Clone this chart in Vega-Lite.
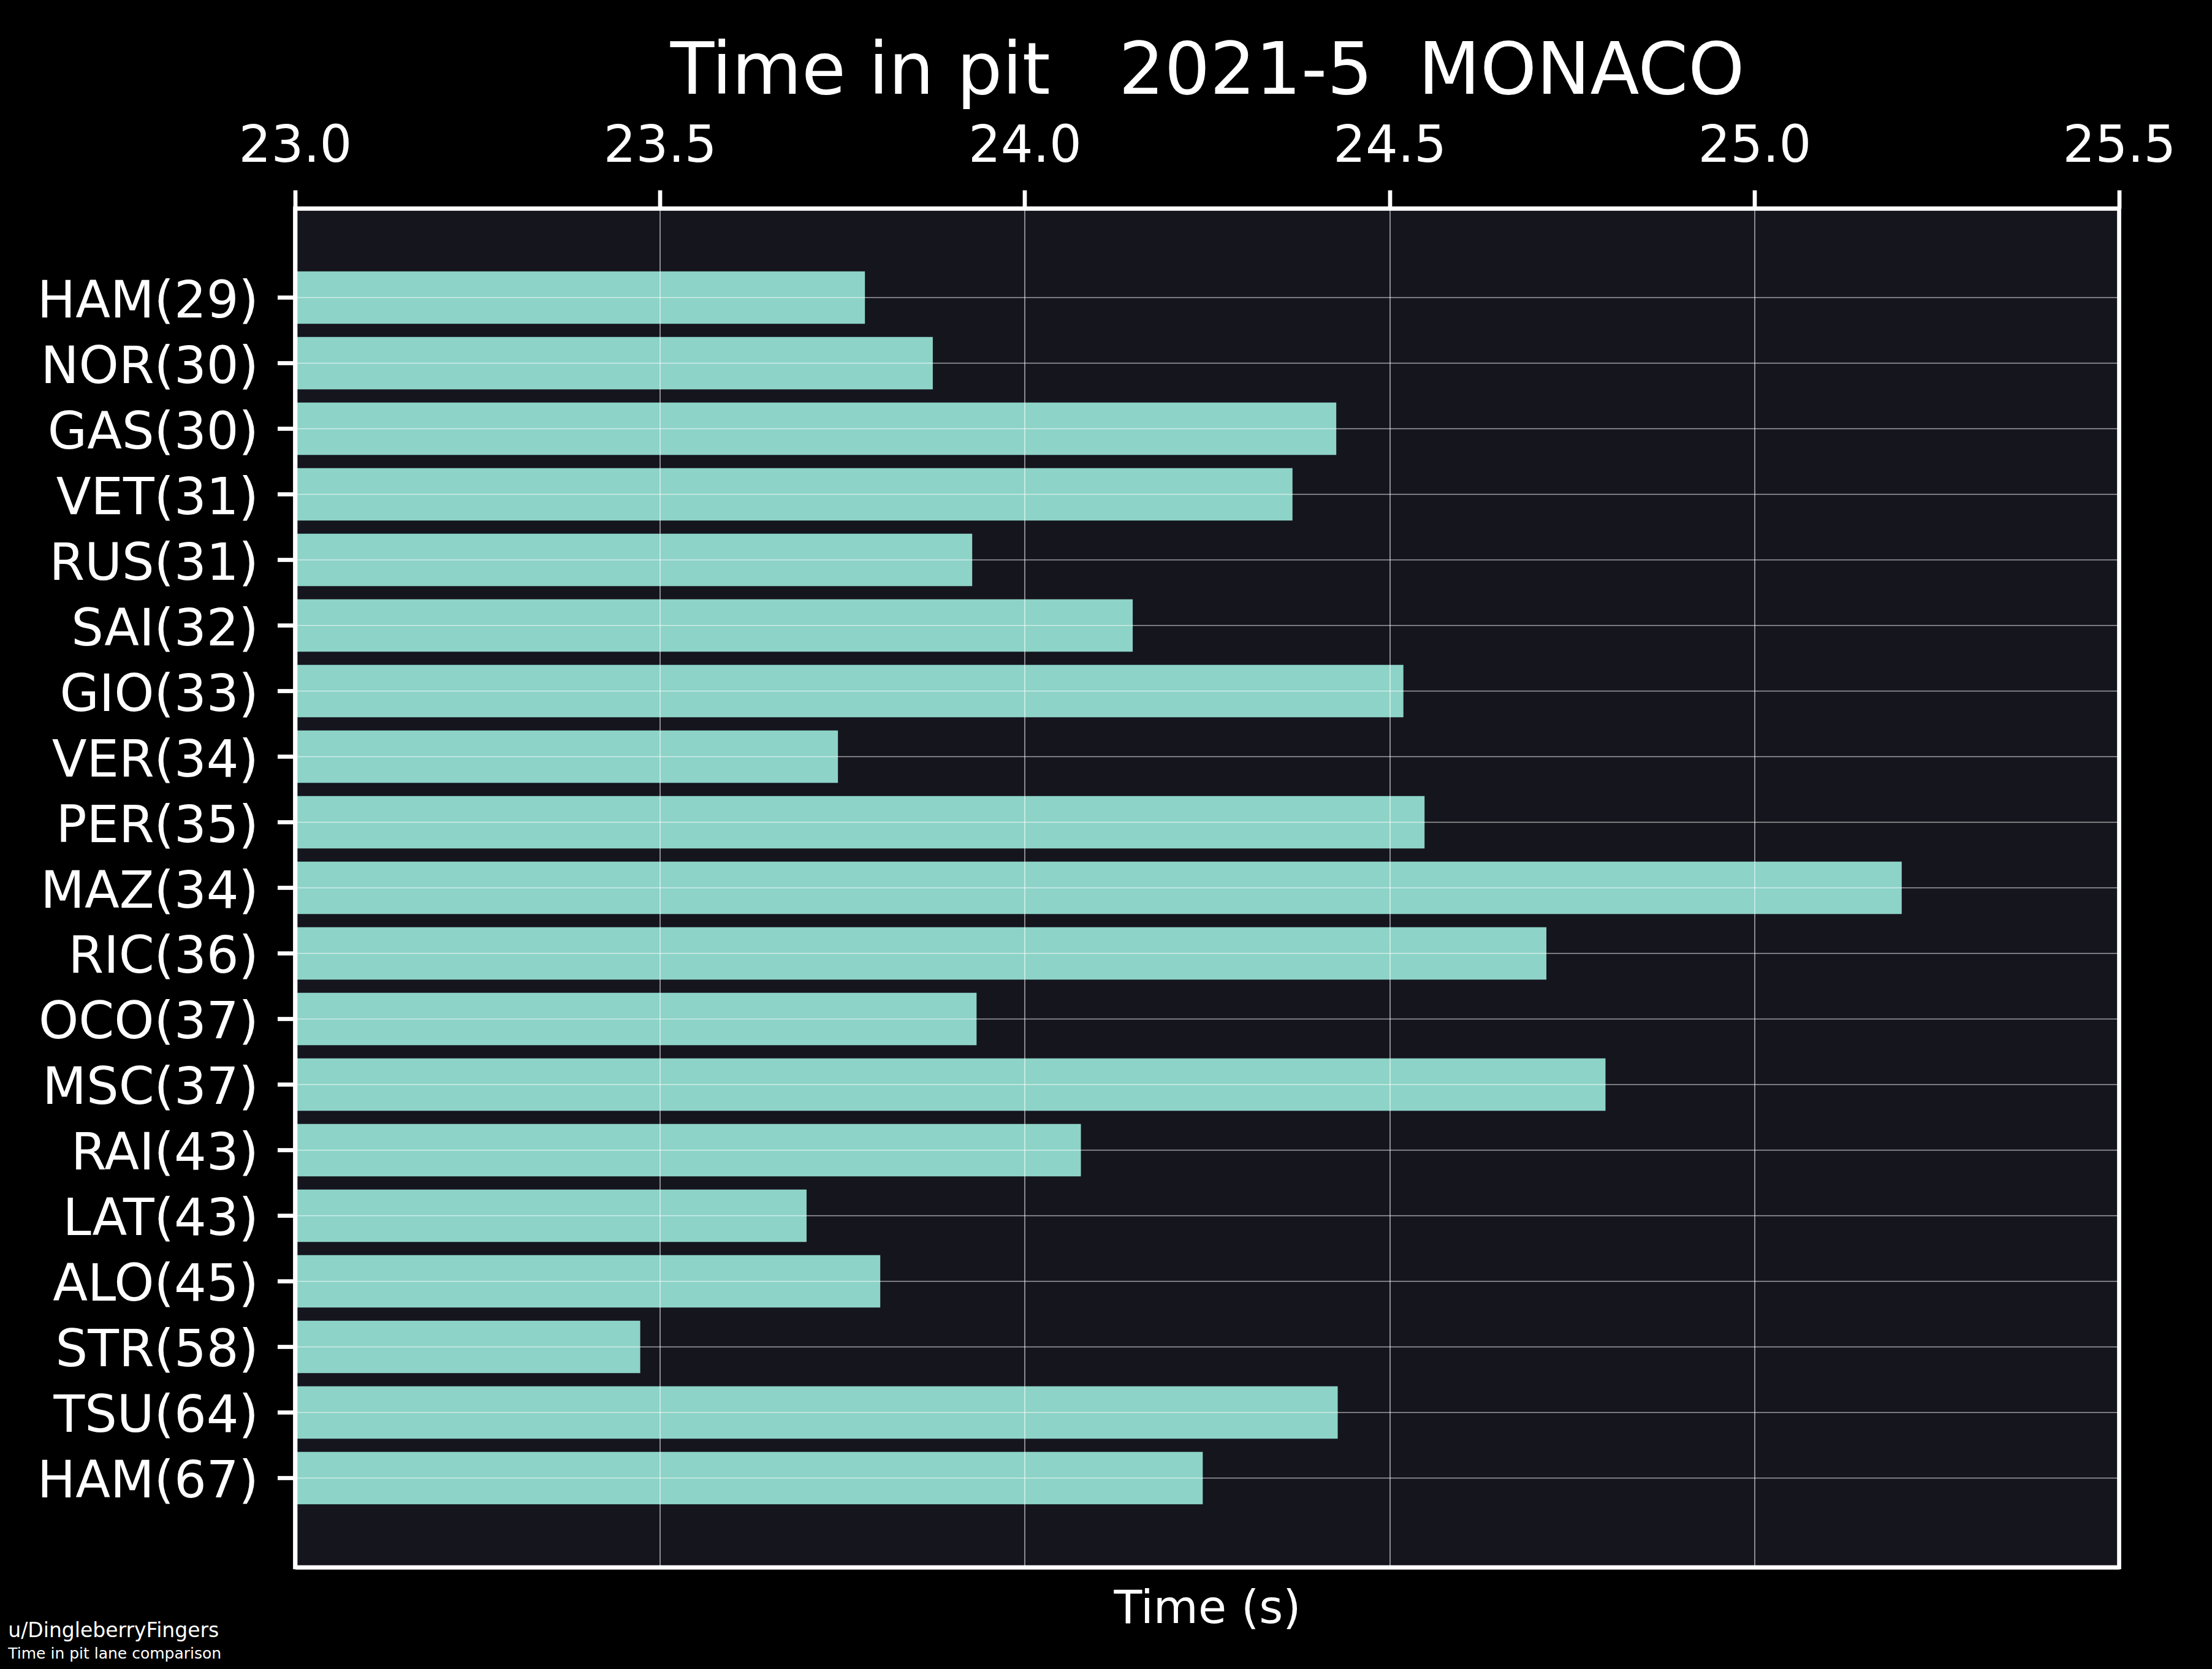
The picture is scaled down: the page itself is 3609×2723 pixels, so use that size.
{
  "$schema": "https://vega.github.io/schema/vega-lite/v6.json",
  "autosize": {"type": "none"},
  "width": 2976,
  "height": 2217,
  "padding": {"left": 481.5, "top": 340, "right": 151.5, "bottom": 166},
  "background": "#000000",
  "title": {
    "text": "u/DingleberryFingers",
    "subtitle": "Time in pit lane comparison",
    "orient": "bottom",
    "anchor": "start",
    "frame": "bounds",
    "font": "DejaVu Sans",
    "fontSize": 33,
    "fontWeight": "normal",
    "color": "#ffffff",
    "subtitleFont": "DejaVu Sans",
    "subtitleFontSize": 25,
    "subtitleColor": "#ffffff",
    "subtitlePadding": 8,
    "offset": -17,
    "dx": -47
  },
  "data": {
    "values": [
      {"driver": "HAM(29)", "time": 23.781},
      {"driver": "NOR(30)", "time": 23.874},
      {"driver": "GAS(30)", "time": 24.427},
      {"driver": "VET(31)", "time": 24.367},
      {"driver": "RUS(31)", "time": 23.928},
      {"driver": "SAI(32)", "time": 24.148},
      {"driver": "GIO(33)", "time": 24.519},
      {"driver": "VER(34)", "time": 23.744},
      {"driver": "PER(35)", "time": 24.548},
      {"driver": "MAZ(34)", "time": 25.202},
      {"driver": "RIC(36)", "time": 24.715},
      {"driver": "OCO(37)", "time": 23.934},
      {"driver": "MSC(37)", "time": 24.796},
      {"driver": "RAI(43)", "time": 24.077},
      {"driver": "LAT(43)", "time": 23.701},
      {"driver": "ALO(45)", "time": 23.802},
      {"driver": "STR(58)", "time": 23.473},
      {"driver": "TSU(64)", "time": 24.429},
      {"driver": "HAM(67)", "time": 24.244}
    ]
  },
  "layer": [
    {
      "mark": {"type": "bar", "color": "#8dd3c7"},
      "encoding": {
        "y": {
          "field": "driver",
          "type": "nominal",
          "sort": null,
          "scale": {"paddingInner": 0.2, "paddingOuter": 0.96},
          "axis": {
            "title": null,
            "labelFont": "DejaVu Sans",
            "labelFontSize": 83,
            "labelColor": "#ffffff",
            "labelPadding": 31,
            "labelLimit": 0,
            "labelOffset": 7,
            "tickSize": 29,
            "tickWidth": 6.7,
            "tickColor": "#ffffff",
            "domainColor": "#ffffff",
            "domainWidth": 6.7,
            "grid": true,
            "gridColor": "#ffffff",
            "gridOpacity": 0.6,
            "gridWidth": 1.7,
            "bandPosition": 0.5,
            "zindex": 1
          }
        },
        "x": {
          "field": "time",
          "type": "quantitative",
          "scale": {"domain": [23, 25.5], "nice": false, "zero": false},
          "axis": {
            "orient": "top",
            "values": [23, 23.5, 24, 24.5, 25, 25.5],
            "format": ".1f",
            "labelFont": "DejaVu Sans",
            "labelFontSize": 83,
            "labelColor": "#ffffff",
            "labelPadding": 30,
            "labelLimit": 0,
            "labelFlush": false,
            "labelOverlap": false,
            "tickSize": 30,
            "tickWidth": 6.7,
            "tickColor": "#ffffff",
            "domainColor": "#ffffff",
            "domainWidth": 6.7,
            "grid": true,
            "gridColor": "#ffffff",
            "gridOpacity": 0.6,
            "gridWidth": 1.7,
            "title": "Time in pit\u00a0\u00a0 2021-5\u00a0 MONACO",
            "titleFont": "DejaVu Sans",
            "titleFontSize": 117,
            "titleFontWeight": "normal",
            "titleColor": "#ffffff",
            "titlePadding": 20,
            "zindex": 1
          }
        },
        "x2": {"datum": 23}
      }
    },
    {
      "mark": {"type": "bar", "opacity": 0},
      "encoding": {
        "y": {"field": "driver", "type": "nominal", "sort": null},
        "x": {
          "field": "time",
          "type": "quantitative",
          "axis": {
            "orient": "bottom",
            "labels": false,
            "ticks": false,
            "grid": false,
            "domainColor": "#ffffff",
            "domainWidth": 6.7,
            "title": "Time (s)",
            "titleFont": "DejaVu Sans",
            "titleFontSize": 75,
            "titleFontWeight": "normal",
            "titleColor": "#ffffff",
            "titlePadding": 31,
            "zindex": 1
          }
        },
        "x2": {"datum": 23}
      }
    }
  ],
  "resolve": {"axis": {"x": "independent"}},
  "config": {
    "view": {"fill": "#15151e", "stroke": "#ffffff", "strokeWidth": 6.7},
    "font": "DejaVu Sans"
  }
}
